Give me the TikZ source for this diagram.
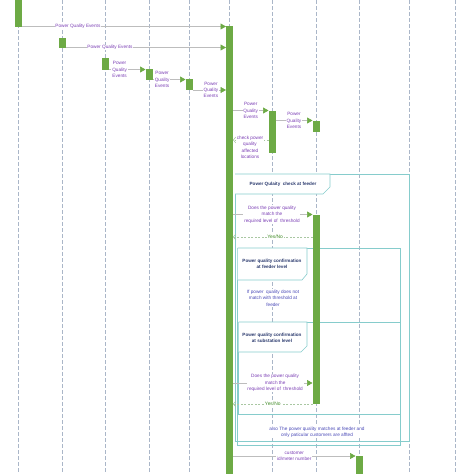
\documentclass[tikz,border=0pt]{standalone}
\usepackage{fontspec}
\setmainfont{Liberation Sans}
\usetikzlibrary{arrows.meta}
\definecolor{lifec}{HTML}{AAB6C8}
\definecolor{barc}{HTML}{6DAA45}
\definecolor{msgc}{HTML}{BDBDBD}
\definecolor{lblc}{HTML}{7B3FB5}
\definecolor{framec}{HTML}{86CCCC}
\definecolor{navyc}{HTML}{2B3A6E}
\definecolor{guardc}{HTML}{4A4AB8}
\definecolor{yesc}{HTML}{3F8A25}
\definecolor{retc}{HTML}{A9C7A2}
\begin{document}
\begin{tikzpicture}[x=1pt,y=-1pt,
  lifeline/.style={draw=lifec,line width=0.7pt,dash pattern=on 3.5pt off 2.5pt},
  actbar/.style={fill=barc,draw=none,inner sep=0pt,outer sep=0pt,minimum width=7pt},
  msg/.style={draw=msgc,line width=0.55pt,-{Triangle[length=5.5pt,width=6pt,color=barc]}},
  retmsg/.style={draw=retc,line width=0.55pt,dash pattern=on 2pt off 1.5pt,-{Straight Barb[length=2.5pt,width=6pt,color=retc]}},
  mlabel/.style={text=lblc,fill=white,inner sep=0.8pt,align=center,font=\fontsize{4.7}{6.4}\selectfont},
  ylabel/.style={text=yesc,fill=white,inner sep=0.8pt,font=\fontsize{4.9}{6}\selectfont},
  frame/.style={draw=framec,line width=0.6pt},
  flabel/.style={text=navyc,align=center,font=\bfseries\fontsize{4.6}{6.4}\selectfont},
  guard/.style={text=guardc,fill=white,inner sep=0.8pt,align=center,font=\fontsize{4.7}{6.4}\selectfont}
]
\useasboundingbox (0,0) rectangle (474,474);
% lifelines
\foreach \x in {18.5,62,105,149,189,229.5,272,316,359,409,455}
  \draw[lifeline] (\x,0) -- (\x,474);
% frames
\draw[frame] (235,174) rectangle (409,441);
\draw[frame,fill=white] (235,174) -- (330,174) -- (330,187) -- (323,194) -- (235,194);
\node[flabel] (fA) at (283,184) {Power Qulaity\ \ check at feeder};
\draw[frame] (237.5,248) rectangle (400.5,445);
\draw[frame,fill=white] (237.5,248) -- (307,248) -- (307,274) -- (302,280) -- (237.5,280);
\node[flabel] (fB) at (272,264) {Power quality confirmation\\at feeder level};
\draw[frame] (238.5,322) rectangle (400.5,414);
\draw[frame,fill=white] (238.5,322) -- (307,322) -- (307,346) -- (301,352) -- (238.5,352);
\node[flabel] (fC) at (272,338) {Power quality confirmation\\at substation level};
% activation bars
\node[actbar,minimum width=6.5pt,minimum height=28pt] (b0) at (18.5,12.5) {};
\node[actbar,minimum height=450pt] (bM) at (229.5,251) {};
\node[actbar,minimum height=10pt] (b1) at (62,42.5) {};
\node[actbar,minimum height=11.5pt] (b2) at (105,63.75) {};
\node[actbar,minimum height=10.5pt] (b3) at (149,74.25) {};
\node[actbar,minimum height=11pt] (b4) at (189,84.5) {};
\node[actbar,minimum height=42pt] (b5) at (272,131.5) {};
\node[actbar,minimum height=11pt] (b6) at (316,126) {};
\node[actbar,minimum height=189.5pt] (b7) at (316,309.25) {};
\node[actbar,minimum height=20pt] (b8) at (359,466) {};
% messages
\draw[msg] (b0.south east) -- (b0.south east -| bM.west) node[mlabel,pos=0.275] {Power Quality Events};
\draw[msg] (b1.south east) -- (b1.south east -| bM.west) node[mlabel,pos=0.277] {Power Quality Events};
\draw[msg] (b2.south east) -- (b2.south east -| b3.west) node[mlabel,pos=0.3] {Power\\Quality\\Events};
\draw[msg] (b3.south east) -- (b3.south east -| b4.west) node[mlabel,pos=0.29] {Power\\Quality\\Events};
\draw[msg] (b4.south east) -- (b4.south east -| bM.west) node[mlabel,pos=0.55] {Power\\Quality\\Events};
\draw[msg] (b5.north west -| bM.east) -- (b5.north west) node[mlabel,pos=0.5] {Power\\Quality\\Events};
\draw[msg] (b6.north west -| b5.east) -- (b6.north west) node[mlabel,pos=0.5] {Power\\Quality\\Events};
\coordinate (r1s) at (b5.west |- 0,140);
\draw[retmsg] (r1s) -- (r1s -| bM.east) node[mlabel,pos=0.52,yshift=-7.5pt] {check power\\quality\\affected\\locations};
\draw[msg] (b7.north west -| bM.east) -- (b7.north west) node[mlabel,pos=0.49] {Does the power quality\\match the\\required level of\ \ threshold};
\coordinate (r2s) at (b7.west |- 0,237);
\draw[retmsg] (r2s) -- (r2s -| bM.east) node[ylabel,pos=0.47] {Yes/No};
\node[guard] (g1) at (273,298) {If power\ \ quality does not\\match with threshold at\\feeder};
\coordinate (m9e) at (b7.west |- 0,383);
\draw[msg] (m9e -| bM.east) -- (m9e) node[mlabel,pos=0.53] {Does the power quality\\match the\\required level of\ \ threshold};
\draw[retmsg] (b7.south west) -- (b7.south west -| bM.east) node[ylabel,pos=0.5] {Yes/No};
\node[guard] (g2) at (317,432) {also The power quality matches at feeder and\\only paticular customers are affted};
\draw[msg] (b8.north west -| bM.east) -- (b8.north west) node[mlabel,pos=0.5] {customer\\id/meter number};
\end{tikzpicture}
\end{document}
